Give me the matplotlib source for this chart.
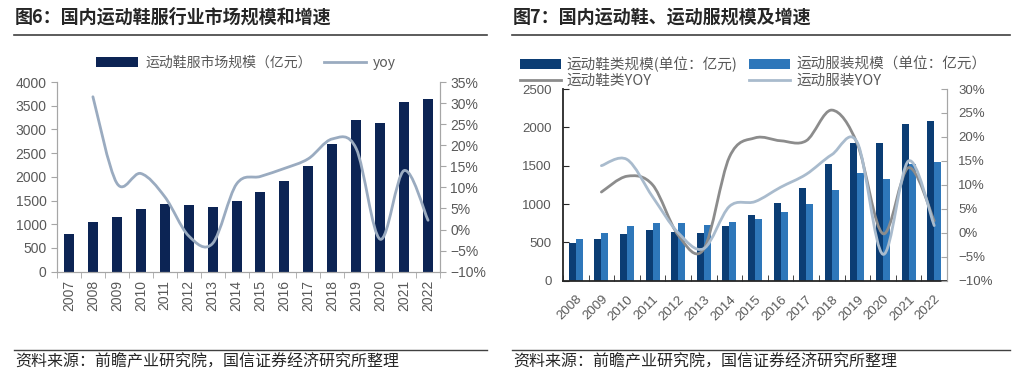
import numpy as np
import matplotlib
matplotlib.use('Agg')
import matplotlib.pyplot as plt
from matplotlib.path import Path
from matplotlib.patches import PathPatch
from matplotlib.lines import Line2D
from matplotlib.ticker import FuncFormatter

plt.rcParams['font.family'] = ['Noto Sans CJK SC', 'DejaVu Sans']
plt.rcParams['axes.unicode_minus'] = True

# 图6 数据
years6 = ['2007', '2008', '2009', '2010', '2011', '2012', '2013', '2014',
          '2015', '2016', '2017', '2018', '2019', '2020', '2021', '2022']
market6 = [795, 1040, 1160, 1318, 1422, 1400, 1360, 1492,
           1676, 1914, 2230, 2696, 3202, 3126, 3568, 3640]
yoy6 = [None, 31.5, 11.0, 13.3, 7.8, -1.5, -3.3, 10.8,
        12.6, 14.5, 16.8, 21.5, 19.2, -2.3, 14.0, 2.2]

# 图7 数据
years7 = ['2008', '2009', '2010', '2011', '2012', '2013', '2014', '2015',
          '2016', '2017', '2018', '2019', '2020', '2021', '2022']
shoes7 = [496, 540, 605, 662, 640, 618, 714, 857,
          1018, 1214, 1527, 1801, 1801, 2042, 2085]
apparel7 = [544, 618, 714, 757, 757, 731, 770, 809,
            897, 1005, 1180, 1402, 1328, 1520, 1553]
shoes_yoy7 = [None, 8.5, 11.8, 10.0, -0.5, -3.4, 15.8, 19.8,
              19.2, 19.2, 25.6, 18.5, -0.2, 13.6, 2.5]
apparel_yoy7 = [None, 14.0, 15.3, 7.5, 0.0, -3.3, 5.5, 6.5,
                9.5, 12.2, 16.3, 18.8, -4.5, 15.0, 1.5]

W, H = 1032, 378


def smooth_line(ax, xs, ys, **kw):
    # Excel 风格平滑线：Catmull-Rom 转三次贝塞尔
    pts = [(x, y) for x, y in zip(xs, ys) if y is not None]
    p = np.array(pts, dtype=float)
    verts = [tuple(p[0])]
    codes = [Path.MOVETO]
    n = len(p)
    for i in range(n - 1):
        p0 = p[i - 1] if i > 0 else p[i]
        p1, p2 = p[i], p[i + 1]
        p3 = p[i + 2] if i + 2 < n else p[i + 1]
        c1 = p1 + (p2 - p0) / 6.0
        c2 = p2 - (p3 - p1) / 6.0
        verts += [tuple(c1), tuple(c2), tuple(p2)]
        codes += [Path.CURVE4] * 3
    patch = PathPatch(Path(verts, codes), fill=False, capstyle='round',
                      joinstyle='round', **kw)
    ax.add_patch(patch)
    return Line2D([], [], color=kw.get('edgecolor'), lw=kw.get('lw', 2))


def pct(v, pos):
    return f'{int(round(v))}%'.replace('-', '\u2212')


fig = plt.figure(figsize=(W / 100, H / 100), dpi=100)

# 标题、分隔线、来源
for x0, x1, title in [(14, 487, '图6：国内运动鞋服行业市场规模和增速'),
                      (512, 1010, '图7：国内运动鞋、运动服规模及增速')]:
    fig.text((x0 + 1) / W, 1 - 17 / H, title, fontsize=13, color='#262626',
             va='center', ha='left', fontweight='bold')
    fig.add_artist(Line2D([x0 / W, x1 / W], [1 - 35 / H] * 2, color='#404040', lw=1.2))
    fig.add_artist(Line2D([x0 / W, x1 / W], [1 - 350 / H] * 2, color='#404040', lw=1.0))
    fig.text((x0 + 1) / W, 1 - 362 / H, '资料来源：前瞻产业研究院，国信证券经济研究所整理',
             fontsize=11.5, color='#262626', va='center', ha='left')

tick_font = {'family': ['Liberation Sans', 'DejaVu Sans']}
gray_axis = '#A6A6A6'
label_color = '#595959'

# ---------- 图6 ----------
ax1 = fig.add_axes([57 / W, 1 - 271.7 / H, 383 / W, 189.7 / H])
x6 = np.arange(len(years6))
bars6 = ax1.bar(x6, market6, width=0.42, color='#0C2454', zorder=2)
ax1.set_xlim(-0.5, len(years6) - 0.5)
ax1.set_ylim(0, 4000)
ax1.set_yticks(range(0, 4001, 500))
ax1.set_xticks(x6)
ax1.set_xticklabels(years6, rotation=90)
ax1.set_xticks(np.arange(-0.5, len(years6)), minor=True)
ax1.tick_params(axis='x', which='major', length=0, pad=6, labelsize=10, labelcolor=label_color)
ax1.tick_params(axis='x', which='minor', length=4, direction='out', color=gray_axis)
ax1.tick_params(axis='y', length=4, direction='out', color=gray_axis, labelsize=10,
                labelcolor=label_color)
for lab in ax1.get_xticklabels() + ax1.get_yticklabels():
    lab.set_family(tick_font['family'])
for s in ['top']:
    ax1.spines[s].set_visible(False)
for s in ['left', 'bottom', 'right']:
    ax1.spines[s].set_color(gray_axis)

ax1r = ax1.twinx()
ax1r.set_ylim(-10, 35)
ax1r.set_yticks(range(-10, 36, 5))
ax1r.yaxis.set_major_formatter(FuncFormatter(pct))
ax1r.tick_params(axis='y', length=4, direction='out', color=gray_axis, labelsize=10,
                 labelcolor=label_color)
for lab in ax1r.get_yticklabels():
    lab.set_family(tick_font['family'])
ax1r.spines['top'].set_visible(False)
for s in ['left', 'bottom', 'right']:
    ax1r.spines[s].set_color(gray_axis)
h_yoy6 = smooth_line(ax1r, x6, yoy6, edgecolor='#9AABC0', lw=2.0)

ax1.legend([bars6, h_yoy6], ['运动鞋服市场规模（亿元）', 'yoy'], ncol=2,
           loc='center', bbox_to_anchor=(246 / W, 1 - 63 / H),
           bbox_transform=fig.transFigure, frameon=False, fontsize=10,
           handlelength=3.0, columnspacing=0.9, handletextpad=0.5,
           labelcolor=label_color)

# ---------- 图7 ----------
ax2 = fig.add_axes([563 / W, 1 - 280.7 / H, 384 / W, 191.7 / H])
x7 = np.arange(len(years7))
bw = 0.27
b_shoes = ax2.bar(x7 - bw / 2, shoes7, width=bw, color='#0B3D74', zorder=2)
b_app = ax2.bar(x7 + bw / 2, apparel7, width=bw, color='#2E77BA', zorder=2)
ax2.set_xlim(-0.5, len(years7) - 0.5)
ax2.set_ylim(0, 2500)
ax2.set_yticks(range(0, 2501, 500))
ax2.set_xticks(x7)
ax2.set_xticklabels(years7, rotation=45, ha='right', rotation_mode='anchor')
ax2.set_xticks(np.arange(-0.5, len(years7)), minor=True)
ax2.tick_params(axis='x', which='major', length=0, pad=9, labelsize=9.5, labelcolor=label_color)
ax2.tick_params(axis='x', which='minor', length=4, direction='in', color='#262626')
ax2.tick_params(axis='y', length=4, direction='in', color='#262626', labelsize=9.5,
                labelcolor=label_color, pad=8)
for lab in ax2.get_xticklabels() + ax2.get_yticklabels():
    lab.set_family(tick_font['family'])
ax2.spines['top'].set_visible(False)
for s in ['left', 'bottom']:
    ax2.spines[s].set_color('#262626')
    ax2.spines[s].set_linewidth(1.3)
ax2.spines['right'].set_color(gray_axis)

ax2r = ax2.twinx()
ax2r.set_ylim(-10, 30)
ax2r.set_yticks(range(-10, 31, 5))
ax2r.yaxis.set_major_formatter(FuncFormatter(pct))
ax2r.tick_params(axis='y', length=4, direction='in', color=gray_axis, labelsize=9.5,
                 labelcolor=label_color, pad=8)
for lab in ax2r.get_yticklabels():
    lab.set_family(tick_font['family'])
ax2r.spines['top'].set_visible(False)
ax2r.spines['left'].set_visible(False)
ax2r.spines['bottom'].set_visible(False)
ax2r.spines['right'].set_color(gray_axis)
h_syoy = smooth_line(ax2r, x7, shoes_yoy7, edgecolor='#8C8C8C', lw=2.0)
h_ayoy = smooth_line(ax2r, x7, apparel_yoy7, edgecolor='#A9BBCD', lw=2.0)

fig.legend([b_shoes, h_syoy, b_app, h_ayoy],
           ['运动鞋类规模(单位：亿元)', '运动鞋类YOY', '运动服装规模（单位：亿元）', '运动服装YOY'],
           ncol=2, loc='upper left', bbox_to_anchor=(510 / W, 1 - 46 / H),
           frameon=False, fontsize=10.5, handlelength=2.8, columnspacing=0.8,
           handletextpad=0.4, labelspacing=0.15, borderpad=0.2,
           labelcolor=label_color)

fig.savefig('out.png', dpi=100)
